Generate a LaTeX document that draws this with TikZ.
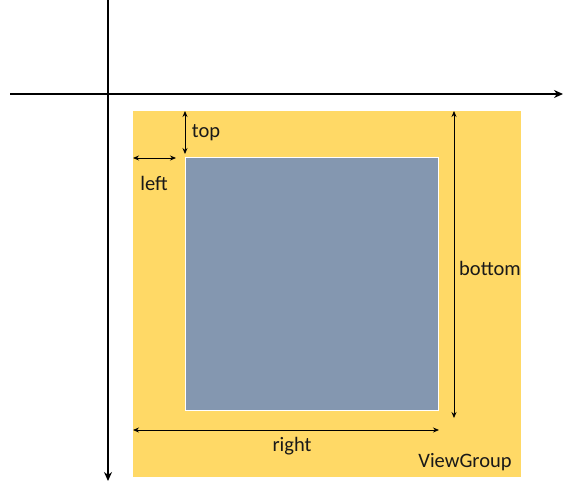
\documentclass[tikz,border=0pt]{standalone}
\usepackage{fontspec}
\setmainfont{Carlito}
\usetikzlibrary{arrows.meta}
\definecolor{vgyellow}{HTML}{FFD966}
\definecolor{vblue}{HTML}{8497B0}
\begin{document}
\begin{tikzpicture}[x=1pt,y=-1pt,
  axis/.style={line width=2.4pt,-{Stealth[length=9pt,width=8pt]}},
  dim/.style={line width=0.8pt,{Stealth[length=6pt,width=5pt]}-{Stealth[length=6pt,width=5pt]}},
  lbl/.style={font=\fontsize{20.5}{24}\selectfont,inner sep=0pt,text=black!90}]
\useasboundingbox (0,0) rectangle (572,493);
% ViewGroup
\node[fill=vgyellow,inner sep=0pt,minimum width=388pt,minimum height=366pt,anchor=north west] (vg) at (133,111) {};
% child view
\node[fill=vblue,draw=white,line width=1pt,inner sep=0pt,minimum width=253pt,minimum height=253pt,anchor=north west] (child) at (185,157) {};
% axes
\coordinate (xs) at (10,94);
\coordinate (xe) at (563,94);
\coordinate (ys) at (108,0);
\coordinate (ye) at (108,481);
\draw[axis] (xs) -- (xe);
\draw[axis] (ys) -- (ye);
% dimension arrows
\coordinate (topA) at (185,111);
\coordinate (topB) at (185,154);
\draw[dim] (topA) -- (topB);
\coordinate (leftA) at (133,158);
\coordinate (leftB) at (176,158);
\draw[dim] (leftA) -- (leftB);
\coordinate (botA) at (454,111);
\coordinate (botB) at (454,418);
\draw[dim] (botA) -- (botB);
\coordinate (rightA) at (133,430);
\coordinate (rightB) at (439,430);
\draw[dim] (rightA) -- (rightB);
% labels
\node[lbl] (ltop) at (206,133) {top};
\node[lbl] (lleft) at (154,183) {left};
\node[lbl] (lbottom) at (490,268) {bottom};
\node[lbl] (lright) at (292,446) {right};
\node[lbl] (lvg) at (465,462) {ViewGroup};
\end{tikzpicture}
\end{document}
